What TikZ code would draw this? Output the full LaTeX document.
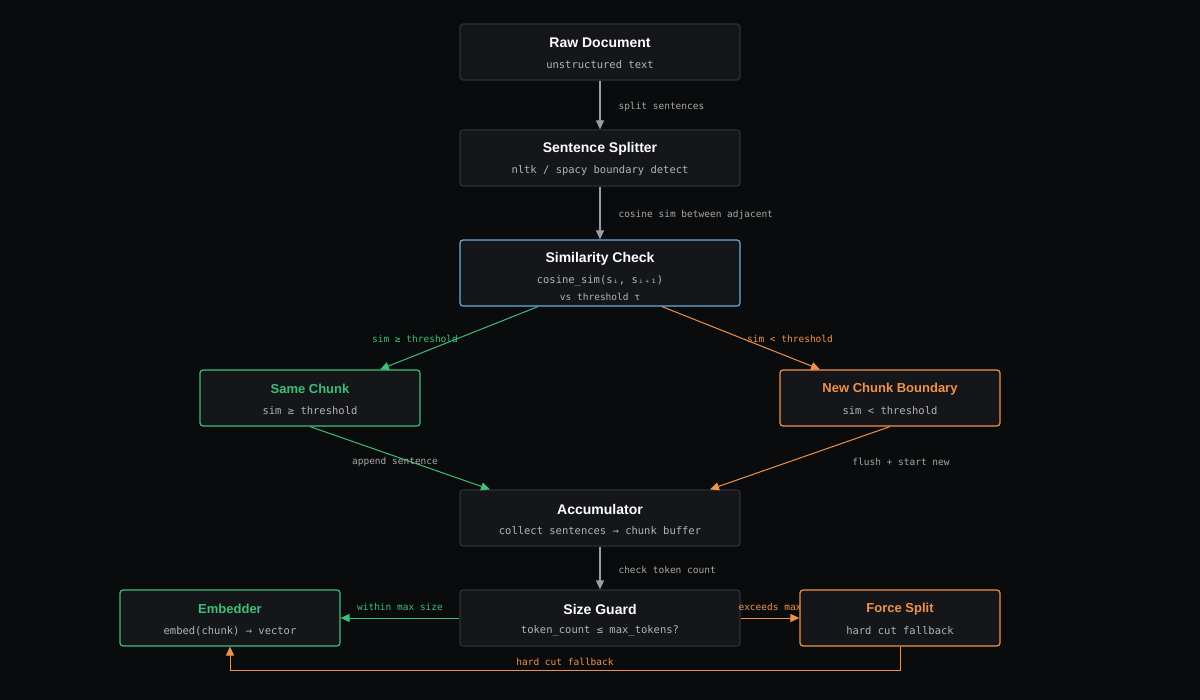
\documentclass[tikz,border=0pt]{standalone}
\usepackage{fontspec}
\setmainfont{Liberation Sans}
\newfontfamily\monofont{DejaVu Sans Mono}
\usetikzlibrary{arrows.meta}
\definecolor{bgc}{HTML}{0A0B0D}
\definecolor{boxfill}{HTML}{14161A}
\definecolor{boxline}{HTML}{2C2F35}
\definecolor{subgray}{HTML}{B4B4B4}
\definecolor{lblgray}{HTML}{A8A8A8}
\definecolor{bluec}{HTML}{6AAEE0}
\definecolor{greenc}{HTML}{3DBF78}
\definecolor{orangec}{HTML}{F0924A}
\definecolor{arrgray}{HTML}{9A9DA3}

\begin{document}
\begin{tikzpicture}[x=1pt, y=-1pt,
  box/.style={draw=boxline, fill=boxfill, rounded corners=3pt, line width=1.2pt, minimum width=280pt, minimum height=56pt, inner sep=0pt},
  small/.style={box, minimum width=220pt},
  ttl/.style={font=\bfseries\fontsize{14}{16}\selectfont, text=white},
  sub/.style={font=\monofont\fontsize{10.5}{12}\selectfont, text=subgray},
  lbl/.style={font=\monofont\fontsize{9.5}{11}\selectfont, text=lblgray},
  conn/.style={draw=arrgray, line width=1.2pt, -{Triangle[length=9pt, width=8pt]}},
  gconn/.style={conn, draw=greenc, line width=1pt},
  oconn/.style={conn, draw=orangec, line width=1pt}]
  \fill[bgc] (0,0) rectangle (1200,700);

  % boxes
  \node[box] (raw) at (600,52) {};
  \node[ttl] at (600,43) {Raw Document};
  \node[sub] at (600,65) {unstructured text};

  \node[box] (split) at (600,158) {};
  \node[ttl] at (600,149) {Sentence Splitter};
  \node[sub] at (600,171) {nltk / spacy boundary detect};

  \node[box, draw=bluec, minimum height=66pt] (sim) at (600,273) {};
  \node[ttl] at (600,259) {Similarity Check};
  \node[sub] at (600,281) {cosine\_sim(sᵢ, sᵢ₊₁)};
  \node[sub, font=\monofont\fontsize{9.5}{11}\selectfont] at (600,297) {vs threshold τ};

  \node[small, draw=greenc] (same) at (310,398) {};
  \node[ttl, text=greenc, font=\bfseries\fontsize{13}{15}\selectfont] at (310,389) {Same Chunk};
  \node[sub] at (310,411) {sim ≥ threshold};

  \node[small, draw=orangec] (new) at (890,398) {};
  \node[ttl, text=orangec, font=\bfseries\fontsize{13}{15}\selectfont] at (890,389) {New Chunk Boundary};
  \node[sub] at (890,411) {sim < threshold};

  \node[box] (acc) at (600,518) {};
  \node[ttl] at (600,509) {Accumulator};
  \node[sub] at (600,531) {collect sentences → chunk buffer};

  \node[box] (guard) at (600,618) {};
  \node[ttl] at (600,609) {Size Guard};
  \node[sub] at (600,631) {token\_count ≤ max\_tokens?};

  \node[small, draw=greenc] (emb) at (230,618) {};
  \node[ttl, text=greenc, font=\bfseries\fontsize{13}{15}\selectfont] at (230,609) {Embedder};
  \node[sub] at (230,631) {embed(chunk) → vector};

  \node[small, draw=orangec, minimum width=200pt] (force) at (900,618) {};
  \node[ttl, text=orangec, font=\bfseries\fontsize{13}{15}\selectfont] at (900,609) {Force Split};
  \node[sub] at (900,631) {hard cut fallback};

  % connectors
  \draw[conn] (raw) -- (split);
  \draw[conn] (split) -- (sim);
  \draw[gconn] ([xshift=-62pt]sim.south) -- ([xshift=70pt]same.north);
  \draw[oconn] ([xshift=62pt]sim.south) -- ([xshift=-70pt]new.north);
  \draw[gconn] (same.south) -- ([xshift=-110pt]acc.north);
  \draw[oconn] (new.south) -- ([xshift=110pt]acc.north);
  \draw[conn] (acc) -- (guard);
  \draw[gconn] (guard) -- (emb);
  \draw[oconn] (guard) -- (force);
  \coordinate (loopr) at (900,670);
  \coordinate (loopl) at (230,670);
  \draw[oconn] (force.south) -- (loopr) -- (loopl) -- (emb.south);

  % labels
  \node[lbl, anchor=west] at (615,107) {split sentences};
  \node[lbl, anchor=west] at (615,215) {cosine sim between adjacent};
  \node[lbl, text=greenc] at (415,339) {sim ≥ threshold};
  \node[lbl, text=orangec] at (790,339) {sim < threshold};
  \node[lbl] at (395,462) {append sentence};
  \node[lbl] at (901,462) {flush + start new};
  \node[lbl, anchor=west] at (615,570) {check token count};
  \node[lbl, text=greenc] at (400,607) {within max size};
  \node[lbl, text=orangec] at (770,607) {exceeds max};
  \node[lbl, text=orangec] at (565,662) {hard cut fallback};
\end{tikzpicture}
\end{document}
